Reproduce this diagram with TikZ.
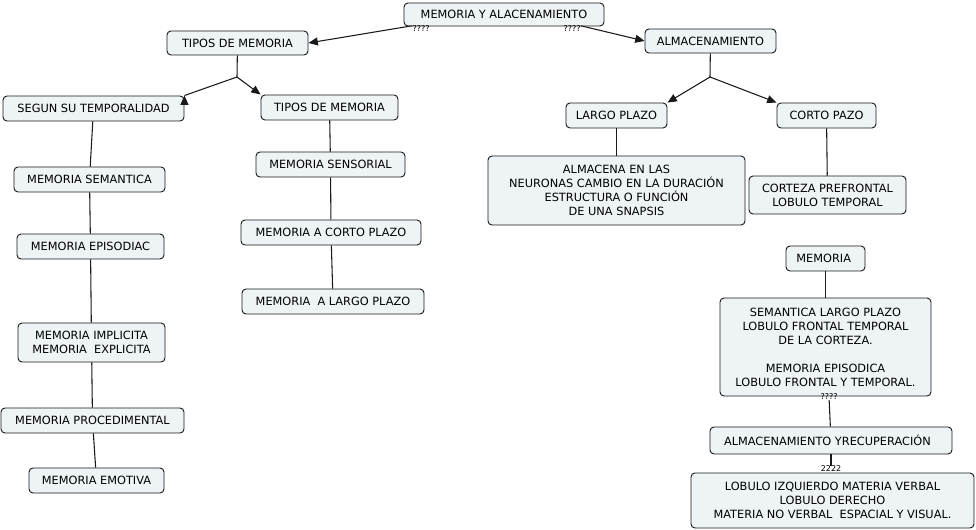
\documentclass[tikz,border=0pt]{standalone}
\usepackage{fontspec}
\setmainfont{DejaVu Sans}
\usetikzlibrary{arrows.meta}
\definecolor{boxfill}{HTML}{EEF3F6}
\definecolor{boxline}{HTML}{1A1A1A}
\begin{document}
\begin{tikzpicture}[x=0.75pt,y=-0.75pt,
  box/.style={draw=boxline,fill=boxfill,rounded corners=3pt,line width=0.7pt,
    inner sep=0pt,font=\fontsize{8.5}{10.5}\selectfont,align=center},
  con/.style={line width=0.8pt,draw=boxline},
  arr/.style={con,-{Triangle[length=7pt,width=6pt]}},
  q/.style={font=\fontsize{6}{6}\selectfont,inner sep=0pt}]
\useasboundingbox (0,0) rectangle (976,530);
\node[box,minimum width=200*0.75pt,minimum height=23*0.75pt] (top) at (504,14.5) {MEMORIA Y ALACENAMIENTO};
\node[box,minimum width=141*0.75pt,minimum height=24*0.75pt] (tip1) at (237.5,43) {TIPOS DE MEMORIA};
\node[box,minimum width=131*0.75pt,minimum height=24*0.75pt] (alm) at (710.5,41) {ALMACENAMIENTO};
\node[box,minimum width=181*0.75pt,minimum height=25*0.75pt] (seg) at (93.5,108.5) {SEGUN SU TEMPORALIDAD};
\node[box,minimum width=137*0.75pt,minimum height=25*0.75pt] (tip2) at (329.5,107.5) {TIPOS DE MEMORIA};
\node[box,minimum width=101*0.75pt,minimum height=25*0.75pt] (lp) at (616.5,115.5) {LARGO PLAZO};
\node[box,minimum width=99*0.75pt,minimum height=25*0.75pt] (cp) at (826.5,115.5) {CORTO PAZO};
\node[box,minimum width=257*0.75pt,minimum height=69*0.75pt] (almc) at (616.5,190.5) {ALMACENA EN LAS\\NEURONAS CAMBIO EN LA DURACIÓN\\ESTRUCTURA O FUNCIÓN\\DE UNA SNAPSIS};
\node[box,minimum width=157*0.75pt,minimum height=38*0.75pt] (cort) at (827.5,195) {CORTEZA PREFRONTAL\\LOBULO TEMPORAL};
\node[box,minimum width=151*0.75pt,minimum height=25*0.75pt] (sem) at (89.5,179.5) {MEMORIA SEMANTICA};
\node[box,minimum width=147*0.75pt,minimum height=25*0.75pt] (epi) at (90.5,246.5) {MEMORIA EPISODIAC};
\node[box,minimum width=147*0.75pt,minimum height=39*0.75pt] (imp) at (91.5,342.5) {MEMORIA IMPLICITA\\MEMORIA\ \ EXPLICITA};
\node[box,minimum width=183*0.75pt,minimum height=25*0.75pt] (proc) at (92.5,420.5) {MEMORIA PROCEDIMENTAL};
\node[box,minimum width=135*0.75pt,minimum height=25*0.75pt] (emo) at (96.5,480.5) {MEMORIA EMOTIVA};
\node[box,minimum width=149*0.75pt,minimum height=25*0.75pt] (sens) at (330.5,164.5) {MEMORIA SENSORIAL};
\node[box,minimum width=180*0.75pt,minimum height=25*0.75pt] (mcp) at (331,232.5) {MEMORIA A CORTO PLAZO};
\node[box,minimum width=182*0.75pt,minimum height=25*0.75pt] (mlp) at (333,301.5) {MEMORIA\ \ A LARGO PLAZO};
\node[box,minimum width=79*0.75pt,minimum height=25*0.75pt] (mem) at (825.5,258.5) {MEMORIA\ };
\node[box,minimum width=211*0.75pt,minimum height=98*0.75pt] (semb) at (825.5,347) {SEMANTICA LARGO PLAZO\\LOBULO FRONTAL TEMPORAL\\DE LA CORTEZA.\\[10.5pt]MEMORIA EPISODICA\\LOBULO FRONTAL Y TEMPORAL.};
\node[box,minimum width=242*0.75pt,minimum height=27*0.75pt] (rec) at (831,440.5) {ALMACENAMIENTO YRECUPERACIÓN\ \ };
\node[box,minimum width=283*0.75pt,minimum height=55*0.75pt] (lob) at (832.5,500.5) {LOBULO IZQUIERDO MATERIA VERBAL\\LOBULO DERECHO\\MATERIA NO VERBAL\ \ ESPACIAL Y VISUAL.};
% small labels
\node[q] (q1) at (421,29) {????};
\node[q] (q2) at (572,29) {????};
\node[q] (q3) at (829,397) {????};
\node[q] (q4) at (831,469) {2222};
% junctions
\coordinate (j1) at (237,77);
\coordinate (j2) at (710,77);
% connectors
\draw[arr] (q1.north west) -- (tip1.east);
\draw[arr] (q2.north east) -- (alm.west);
\draw[con] (tip1) -- (j1);
\draw[arr] (j1) -- (seg.north east) ++(0,0);
\draw[arr] (j1) -- (tip2.north west);
\draw[con] (alm) -- (j2);
\draw[arr] (j2) -- (lp.north east);
\draw[arr] (j2) -- (cp.north west);
\draw[con] (lp) -- (almc);
\draw[con] (cp) -- (cort);
\draw[con] (seg) -- (sem);
\draw[con] (sem) -- (epi);
\draw[con] (epi) -- (imp);
\draw[con] (imp) -- (proc);
\draw[con] (proc) -- (emo);
\draw[con] (tip2) -- (sens);
\draw[con] (sens) -- (mcp);
\draw[con] (mcp) -- (mlp);
\draw[con] (mem) -- (semb);
\draw[con] (q3) -- (rec);
\draw[con] (rec) -- (q4);
\end{tikzpicture}
\end{document}
